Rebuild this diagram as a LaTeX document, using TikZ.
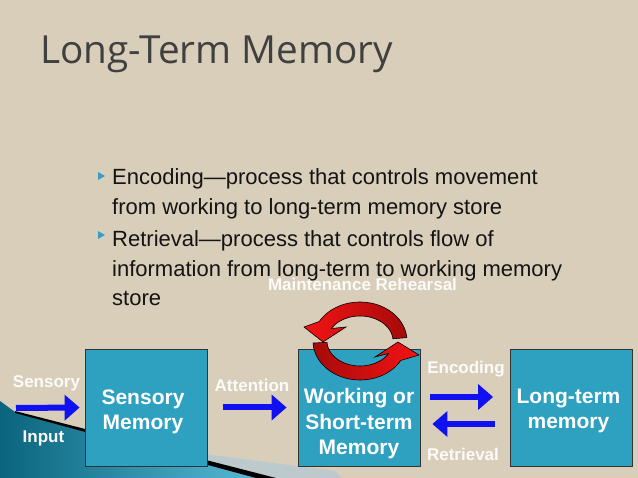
\documentclass[tikz,border=0pt]{standalone}
\usepackage{fontspec}
\setmainfont{Liberation Sans}
\newfontfamily\titlefont{Open Sans}
\usetikzlibrary{arrows.meta}
\definecolor{bg}{RGB}{216,206,186}
\definecolor{boxteal}{RGB}{46,160,192}
\definecolor{tealdark}{RGB}{10,100,125}
\definecolor{teallight}{RGB}{85,185,212}
\definecolor{grayblue}{RGB}{188,202,206}
\definecolor{titlegray}{RGB}{64,64,64}
\definecolor{bullblue}{RGB}{58,156,192}
\definecolor{arrblue}{RGB}{16,16,240}
\definecolor{redbright}{RGB}{245,20,20}
\definecolor{reddark}{RGB}{165,10,10}
\begin{document}
\begin{tikzpicture}[x=1pt,y=-1pt,
  box/.style={draw=black!80, line width=0.8pt, fill=boxteal, minimum width=122pt, minimum height=117pt, inner sep=0pt},
  boxtext/.style={text=white, font=\fontsize{21}{25.5}\selectfont\bfseries, align=center, inner sep=0pt},
  lbl/.style={text=white!92!bg, font=\fontsize{17}{20}\selectfont\bfseries, inner sep=0pt, anchor=base},
  bul/.style={font=\fontsize{22}{26}\selectfont, text=black!92, inner sep=0pt, anchor=base west},
  barrow/.style={draw=arrblue, line width=6pt, -{Triangle[width=25pt,length=15pt]}},
  redarrow/.style={draw=black, line width=0.6pt}
]
\useasboundingbox[fill=bg] (0,0) rectangle (638,478);
% decorative swoosh
\shade[left color=tealdark, right color=teallight] (0,401) -- (15,412) -- (256,478) -- (0,478) -- cycle;
\fill[grayblue] (150,447) -- (335,471) -- (342,478) -- (275,478) -- cycle;
\fill[black] (15,411) -- (276,478) -- (256,478) -- (15,413) -- cycle;
% title
\node[anchor=base west, inner sep=0pt, text=titlegray, font=\titlefont\fontsize{38.7}{42}\selectfont] (title) at (40,64) {Long-Term Memory};
% bullets
\fill[bullblue] (98,172) -- (105,176) -- (98,180) -- cycle;
\fill[bullblue] (98,231) -- (105,235) -- (98,239) -- cycle;
\node[bul] (l1) at (112,185) {Encoding—process that controls movement};
\node[bul] (l2) at (112,215) {from working to long-term memory store};
\node[bul] (l3) at (112,247) {Retrieval—process that controls flow of};
\node[bul] (l4) at (112,277) {information from long-term to working memory};
\node[bul] (l5) at (112,306) {store};
% boxes
\node[box] (sm) at (146,407.5) {};
\node[box] (wm) at (359,407.5) {};
\node[box] (ltm) at (571.5,407.5) {};
\node[boxtext] (smt) at (143,412) {Sensory\\Memory};
\node[boxtext] (wmt) at (359,423.7) {Working or\\Short-term\\Memory};
\node[boxtext] (ltmt) at (568.5,410.9) {Long-term\\memory};
% maintenance rehearsal arrows
\shadedraw[redarrow, left color=redbright, right color=reddark]
 plot[domain=5:150, samples=40, variable=\t] ({360+47*cos(\t)},{341-39*sin(\t)})
 -- (304,327) -- (323,342) -- (346,327)
 -- plot[domain=150:5, samples=40, variable=\t] ({360+33*cos(\t)},{341-25*sin(\t)}) -- cycle;
\shadedraw[redarrow, left color=reddark, right color=redbright]
 plot[domain=183:330, samples=40, variable=\t] ({360+47*cos(\t)},{341-39*sin(\t)})
 -- (419,355) -- (398,342) -- (375,357)
 -- plot[domain=330:183, samples=40, variable=\t] ({360+33*cos(\t)},{341-25*sin(\t)}) -- cycle;
% blue arrows
\coordinate (inp) at (16,408);
\draw[barrow] (inp) -- ([xshift=-5pt]sm.west);
\draw[barrow] ([xshift=16pt]sm.east) -- ([xshift=-11pt]wm.west);
\draw[barrow] ([xshift=10pt,yshift=10.5pt]wm.east) -- ([xshift=-17pt,yshift=10.5pt]ltm.west);
\draw[barrow] ([xshift=-15pt,yshift=-16.5pt]ltm.west) -- ([xshift=12pt,yshift=-16.5pt]wm.east);
% labels
\node[lbl] (lsens) at (46.5,388) {Sensory};
\node[lbl] (linp) at (43.5,443) {Input};
\node[lbl] (latt) at (252,392) {Attention};
\node[lbl] (lenc) at (466,374) {Encoding};
\node[lbl] (lret) at (463,461) {Retrieval};
\node[lbl] (lmr) at (362.5,291) {Maintenance Rehearsal};
\end{tikzpicture}
\end{document}
